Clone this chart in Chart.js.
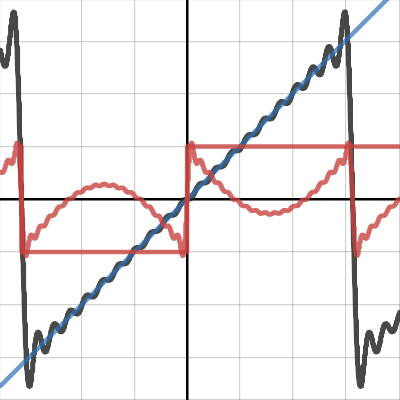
<!DOCTYPE html>
<html>
<head>
<meta charset="utf-8">
<script src="https://cdn.jsdelivr.net/npm/chart.js@4/dist/chart.umd.min.js"></script>
<style>
  html, body { margin: 0; padding: 0; background: #fff; }
  #wrap { width: 400px; height: 400px; }
</style>
</head>
<body>
<div id="wrap"><canvas id="c" width="400" height="400"></canvas></div>
<script>
// view window (graph units)
const xRange = [-3.55, 4.04];
const yRange = [-3.81, 3.78];

// number of Fourier terms read from the wiggles
const sawTerms = 20;
const squareTerms = 35;

// step function drawn in red (thick)
const stepX = [-3.14159, -3.14159, 0, 0, 4.04];
const stepY = [1, -1, -1, 1, 1];

const samples = [];
for (let i = 0; i <= 2400; i++) samples.push(xRange[0] + (xRange[1] - xRange[0]) * i / 2400);

function saw(x) {
  let s = 0;
  for (let n = 1; n <= sawTerms; n++) s += 2 * Math.pow(-1, n + 1) * Math.sin(n * x) / n;
  return s;
}
function squareTail(x) {
  let s = 0;
  for (let k = 3; k <= squareTerms; k += 2) s += 4 / Math.PI * Math.sin(k * x) / k;
  return s;
}

const pts = (f) => samples.map(x => ({ x, y: f(x) }));

new Chart(document.getElementById('c'), {
  type: 'scatter',
  data: {
    datasets: [
      { data: stepX.map((x, i) => ({ x, y: stepY[i] })), borderColor: 'rgba(199,68,64,0.8)', borderWidth: 4.5 },
      { data: pts(squareTail), borderColor: 'rgba(199,68,64,0.8)', borderWidth: 4.5 },
      { data: pts(x => x), borderColor: 'rgba(45,112,179,0.7)', borderWidth: 4 },
      { data: pts(saw), borderColor: 'rgba(40,40,40,0.85)', borderWidth: 5 },
    ].map(d => Object.assign(d, { showLine: true, pointRadius: 0, tension: 0, fill: false, borderJoinStyle: 'round', borderCapStyle: 'round' })),
  },
  options: {
    responsive: false,
    animation: false,
    layout: { padding: 0 },
    plugins: { legend: { display: false }, tooltip: { enabled: false } },
    scales: {
      x: {
        type: 'linear', min: xRange[0], max: xRange[1],
        ticks: { display: false, stepSize: 1 },
        border: { display: false },
        grid: {
          color: c => c.tick.value === 0 ? '#000' : 'rgba(0,0,0,0.18)',
          lineWidth: c => c.tick.value === 0 ? 2.5 : 1.2,
          drawTicks: false,
        },
      },
      y: {
        type: 'linear', min: yRange[0], max: yRange[1],
        ticks: { display: false, stepSize: 1 },
        border: { display: false },
        grid: {
          color: c => c.tick.value === 0 ? '#000' : 'rgba(0,0,0,0.18)',
          lineWidth: c => c.tick.value === 0 ? 2.5 : 1.2,
          drawTicks: false,
        },
      },
    },
  },
});
</script>
</body>
</html>
